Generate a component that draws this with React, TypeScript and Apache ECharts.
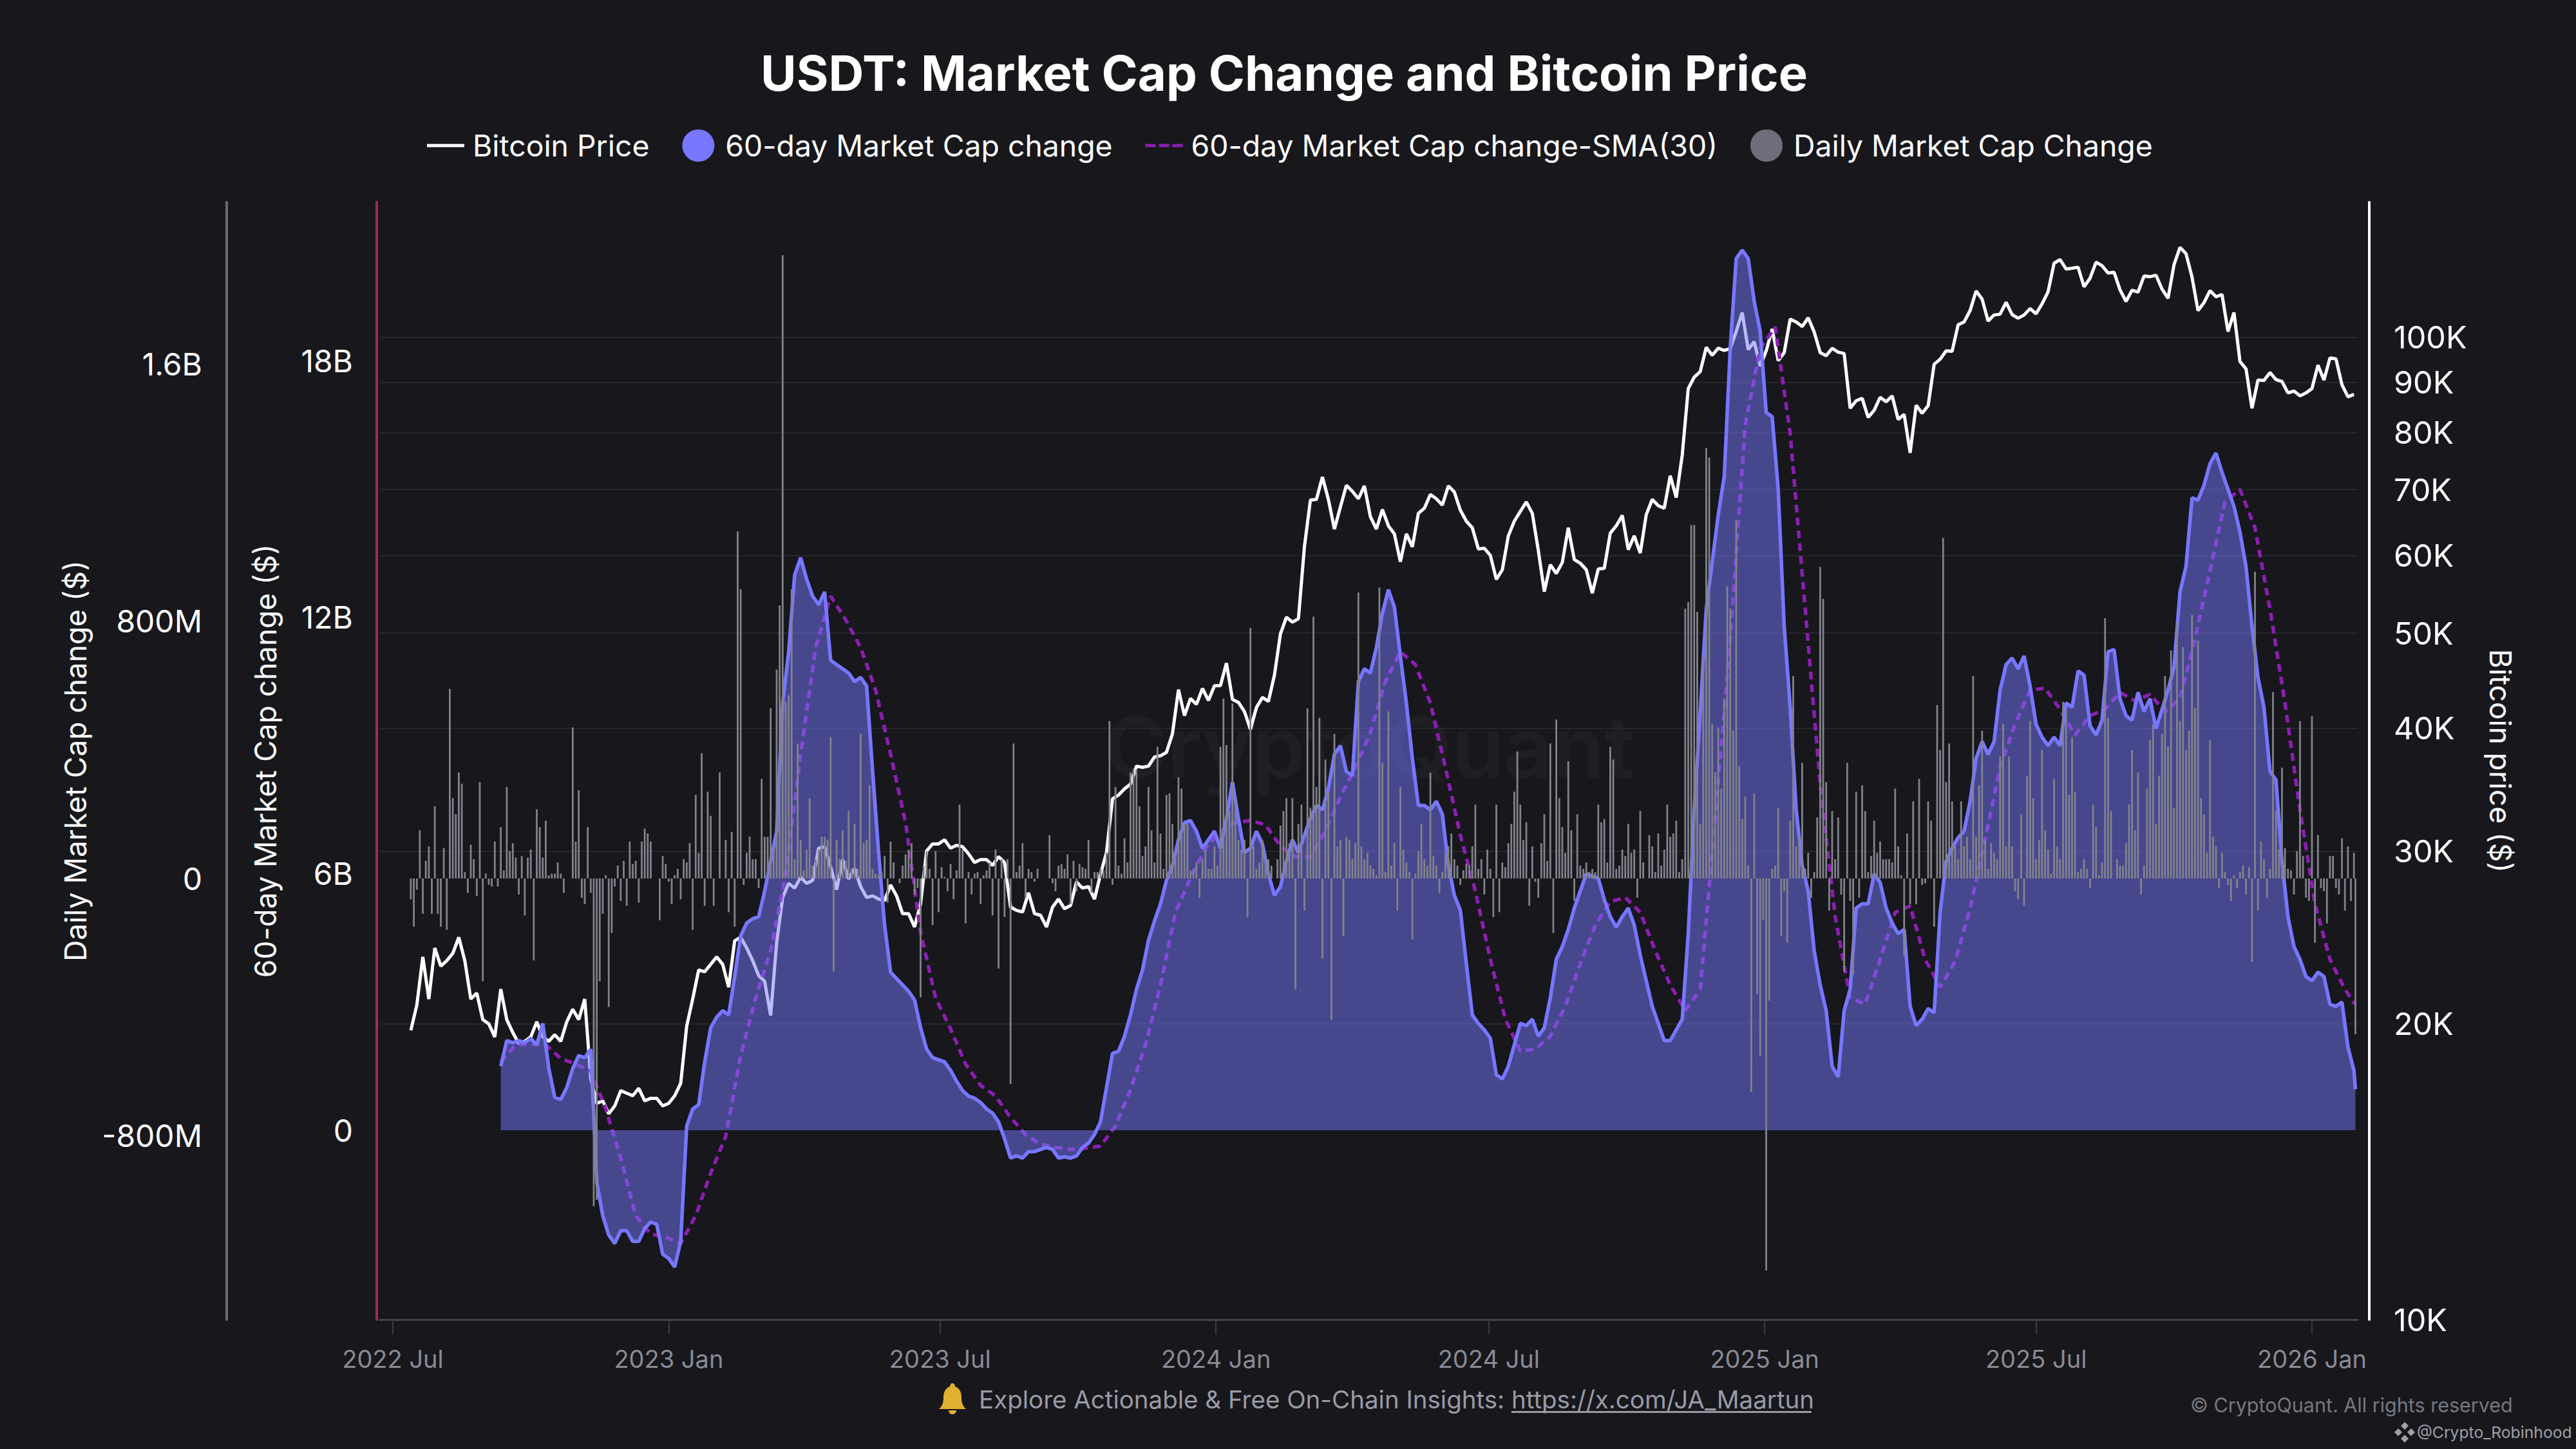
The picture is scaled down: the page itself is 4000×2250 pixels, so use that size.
import React, { useEffect, useRef } from "react";
import * as echarts from "echarts";

const DAY = 86400000;
const END_DATE = Date.UTC(2026, 0, 30);

// Bitcoin price in thousands of dollars, one reading every 4 days from 2022-07-13
const btcPrice = [
  19.7,20.9,23.4,21.2,23.9,22.9,23.2,23.6,24.5,23.2,21.2,21.5,20.2,20.0,19.4,21.7,20.2,19.6,19.1,19.2,19.4,20.1,19.4,19.2,19.5,19.2,20.1,20.7,20.2,21.2,17.6,16.6,16.7,16.2,16.5,17.1,17.0,16.9,17.2,16.7,16.8,16.8,16.5,
  16.6,16.9,17.4,19.9,21.2,22.7,22.6,23.0,23.4,23.0,21.8,24.3,24.5,23.9,23.2,22.4,22.1,20.4,24.2,26.9,27.8,27.5,28.2,27.8,28.0,30.2,30.3,28.9,27.4,29.4,28.1,28.8,27.6,26.9,27.0,26.8,26.7,27.7,27.0,25.9,25.9,25.1,26.5,30.0,30.5,30.5,30.8,30.2,30.4,30.3,29.8,29.2,29.4,29.4,29.0,29.6,29.2,26.3,26.1,26.0,27.2,25.9,25.8,25.1,26.3,26.8,26.2,26.4,27.9,27.5,27.6,26.8,28.4,29.9,33.9,34.2,34.7,35.1,36.6,36.5,36.6,37.4,37.5,37.8,39.5,43.8,41.2,42.9,42.3,43.9,42.7,44.2,
  44.2,46.6,42.8,42.5,41.6,39.9,42.0,43.0,42.6,45.3,49.9,51.9,51.3,51.7,61.2,68.3,68.4,72.1,68.4,63.8,67.2,70.7,69.7,68.5,70.6,65.7,63.8,66.8,64.3,63.1,59.1,63.1,61.2,66.2,67.0,69.2,68.5,67.5,70.6,69.6,66.7,65.0,64.0,60.9,61.0,60.0,56.7,58.0,62.8,65.0,66.5,68.0,66.2,60.7,55.1,58.7,57.5,59.0,64.0,59.4,58.9,58.0,54.9,58.1,58.2,63.2,64.3,65.9,60.8,62.8,60.3,66.0,68.4,67.4,67.0,72.3,68.7,75.9,88.7,91.1,92.3,97.7,95.9,97.5,97.0,97.4,101.4,106.0,97.2,99.0,93.5,
  96.9,102.0,94.7,96.5,104.4,103.7,102.6,104.7,101.3,96.5,95.8,97.5,96.6,96.3,84.7,86.2,86.7,82.9,84.3,86.9,86.0,87.2,82.5,83.5,76.3,85.3,83.7,85.2,93.9,95.0,96.9,96.8,103.0,103.7,106.5,111.5,109.4,103.9,105.4,105.6,108.6,105.5,104.6,105.4,107.0,105.7,108.2,111.3,119.0,120.0,117.4,117.6,117.9,112.6,114.9,119.3,118.3,116.3,116.5,111.8,108.8,111.7,111.2,115.5,115.3,115.7,112.0,109.6,118.6,123.5,121.7,115.2,106.5,108.5,111.6,110.0,110.6,101.4,106.0,94.5,92.9,84.7,90.5,90.4,92.1,90.6,90.2,87.8,88.2,87.2,87.8,
  88.7,93.7,90.5,95.3,95.1,89.5,87.0,87.5,
];

// 60-day market cap change in $B, every 4 days from 2022-09-11
const capChange60 = [
  1.5,2.1,2.05,2.1,2.05,2.15,2.0,2.5,1.46,0.77,0.72,1.0,1.45,1.75,1.7,1.9,-1.2,-2.0,-2.45,-2.65,-2.35,-2.35,-2.6,-2.6,-2.3,-2.15,-2.2,-2.9,-3.0,-3.2,-2.6,0.1,0.5,0.6,1.6,2.4,2.65,2.8,2.7,3.6,4.55,4.85,4.95,5.0,5.6,6.3,7.0,10.0,11.2,13.0,13.4,12.9,12.5,12.3,12.6,11.0,10.9,10.8,10.7,10.5,10.6,10.4,8.4,6.5,4.8,3.7,3.55,3.4,3.25,3.05,2.4,1.9,1.7,1.65,1.6,1.4,1.15,0.93,0.8,0.75,0.65,0.5,0.4,0.2,-0.2,-0.65,-0.6,-0.65,-0.5,-0.5,-0.45,-0.4,-0.45,-0.65,-0.62,-0.65,-0.6,-0.4,-0.3,-0.1,
  0.2,1.0,1.8,1.85,2.2,2.7,3.3,3.75,4.45,4.9,5.3,5.85,6.2,6.8,7.2,7.25,7.0,6.6,6.8,7.0,6.6,7.3,8.15,7.3,6.5,6.6,7.0,6.7,6.0,5.5,5.7,6.3,6.8,6.5,6.9,7.3,7.6,7.5,8.0,8.8,9.0,8.4,8.3,10.5,10.8,10.7,11.3,12.1,12.65,12.25,11.1,10.0,8.7,7.6,7.6,7.5,7.7,7.4,6.2,5.5,5.15,3.9,2.7,2.5,2.35,2.15,1.3,1.2,1.5,2.0,2.5,2.45,2.6,2.2,2.4,3.1,4.0,4.3,4.7,5.2,5.6,6.0,5.95,5.9,5.4,5.0,4.75,5.0,5.2,4.8,4.1,3.5,2.9,2.5,2.1,2.1,2.35,2.6,4.6,7.5,
  9.8,12.2,13.3,14.4,15.3,18.3,20.4,20.6,20.4,19.4,18.7,16.8,16.7,15.0,11.8,9.9,7.5,6.2,5.6,4.2,3.4,2.8,1.5,1.25,2.8,3.3,5.2,5.3,5.3,6.0,5.8,5.2,4.85,4.6,4.7,2.9,2.45,2.6,2.85,2.75,5.1,6.3,6.6,6.85,7.0,7.7,8.7,9.1,8.8,9.1,10.3,10.9,11.05,10.8,11.1,10.4,9.5,9.2,9.0,9.2,9.0,10.0,9.9,10.75,10.65,9.47,9.25,9.6,11.2,11.25,10.1,9.7,9.6,10.25,9.8,10.1,9.4,9.85,10.3,10.85,12.6,13.2,14.8,14.75,15.1,15.6,15.85,15.4,15.0,14.6,14.0,13.2,11.8,10.6,9.9,8.4,8.2,6.3,5.0,4.3,4.0,3.6,3.5,3.7,3.6,2.95,2.9,3.0,1.95,1.4,0.96,
];

// 30-day SMA of the 60-day change in $B, every 10 days from 2022-09-11
const capChangeSma = [
  1.6,2.0,2.02,2.0,1.68,1.55,1.38,0.5,-0.65,-2.0,-2.43,-2.5,-2.65,-2.0,-1.0,-0.15,1.75,3.1,4.2,6.0,8.8,11.3,12.5,11.95,11.3,10.3,8.8,7.2,4.63,3.1,2.37,1.55,1.05,0.8,0.3,-0.1,-0.33,-0.4,-0.45,-0.42,-0.37,0.1,0.95,2.0,3.4,5.1,5.9,6.6,7.0,7.2,7.25,7.15,6.65,6.4,6.4,7.0,7.8,8.5,9.3,10.5,11.2,10.9,10.0,8.5,6.9,5.6,4.0,2.6,1.85,1.9,2.2,2.9,3.9,4.8,5.35,5.45,5.1,4.2,3.4,2.8,3.3,7.3,11.5,16.5,18.3,18.8,16.3,12.2,8.1,5.0,3.1,2.95,4.0,5.1,5.25,4.0,3.35,3.95,5.2,6.8,8.5,9.5,10.3,10.35,9.85,9.25,9.7,9.85,10.25,10.05,10.2,9.8,10.1,11.5,13.1,14.7,15.0,14.1,12.2,10.0,7.5,5.3,4.0,3.3,2.94,
];

// Daily market cap change in $M, every 2 days from 2022-07-13
const dailyChange = [
  -65,-150,-35,150,-110,55,100,-110,225,-110,-150,95,-160,590,250,200,330,295,20,-45,105,60,-55,300,-320,15,-20,-25,115,-25,160,25,285,85,110,65,-50,70,-115,65,90,-255,215,160,65,180,10,15,15,50,15,-45,0,0,470,115,275,-60,-80,160,-45,-1020,-1000,-320,-110,10,-400,-170,-25,40,-70,55,-85,115,45,55,-75,115,155,140,115,0,0,-130,70,45,-10,-80,10,30,-65,60,50,110,-160,260,80,390,-85,270,195,-85,0,330,0,120,-105,145,-150,1080,900,-20,80,130,60,60,-30,
  310,130,130,530,100,650,850,1940,550,570,900,60,420,120,25,90,250,40,60,90,130,130,120,440,-290,120,60,150,55,210,30,170,30,450,110,120,290,30,15,10,20,70,-75,115,50,0,-15,40,75,90,110,-50,-30,-370,40,85,30,-145,85,-105,35,5,-40,45,-65,25,230,90,-140,20,-50,15,20,-80,10,25,50,-115,90,-280,60,-120,60,-640,420,20,40,110,-60,30,20,-10,30,0,0,0,135,-15,-40,40,45,30,75,-80,55,-40,45,35,30,120,-45,20,20,30,25,80,490,-20,285,40,
  15,125,50,330,340,340,225,70,100,285,150,50,410,140,30,260,265,170,90,315,280,170,170,25,30,50,-60,60,90,30,30,100,40,410,560,415,210,545,250,120,90,120,-120,780,100,30,50,120,80,60,40,0,60,165,210,250,110,250,-345,170,230,-100,530,220,815,285,500,-250,370,270,-440,450,100,120,-180,130,120,60,110,890,100,60,80,40,30,10,905,360,20,520,40,110,-100,285,90,50,20,-190,15,85,170,60,40,330,70,40,-45,20,80,100,140,60,40,-20,25,45,40,100,230,30,
  60,-50,90,30,-120,230,-105,50,35,110,170,270,395,230,120,175,-85,100,-10,-60,110,200,55,420,-170,495,250,160,80,365,150,-70,200,40,30,50,20,30,20,230,175,185,50,410,370,30,40,90,70,170,80,90,-60,210,50,0,135,100,20,140,40,90,230,130,140,180,20,60,840,860,1100,1100,830,170,690,1340,1310,480,330,470,280,560,910,840,460,1115,350,185,255,40,-665,265,-360,-553,-130,-1220,-380,30,40,220,-180,-40,-200,180,630,100,130,360,30,80,-60,20,190,970,870,300,-100,210,60,190,-50,-290,360,-70,-300,270,-60,290,210,20,70,180,80,115,60,60,60,50,280,100,10,-240,140,-80,240,-80,310,-20,-15,240,180,-150,540,400,1060,300,420,240,100,60,240,100,130,60,630,130,290,460,120,30,110,80,60,380,480,100,380,100,
  -40,-65,200,-85,320,490,250,60,120,400,150,90,15,310,100,60,550,530,260,440,270,20,30,60,30,-30,230,160,10,50,810,500,210,0,60,40,40,110,230,400,150,330,-50,40,280,430,480,170,320,450,630,410,710,220,800,490,720,400,460,820,530,740,250,200,80,430,130,100,-30,80,20,-20,-70,10,-30,20,40,-50,35,-260,955,-100,115,60,-60,30,580,210,90,345,95,30,25,-50,85,490,70,-60,-70,505,-200,135,-30,-40,-140,70,70,-30,-50,125,-100,100,-70,80,-485,
];

const BTC_TICKS = [10000, 20000, 30000, 40000, 50000, 60000, 70000, 80000, 90000, 100000];
const CAP_TICKS = [0, 6, 12, 18];
const DAILY_TICKS = [-800, 0, 800, 1600];
const X_TICKS = [
  Date.UTC(2022, 6, 1), Date.UTC(2023, 0, 1), Date.UTC(2023, 6, 1), Date.UTC(2024, 0, 1),
  Date.UTC(2024, 6, 1), Date.UTC(2025, 0, 1), Date.UTC(2025, 6, 1), Date.UTC(2026, 0, 1),
];

const dated = (start: number, stepDays: number, vals: number[], scale = 1) =>
  vals.map((v, i) => [Math.min(start + i * stepDays * DAY, END_DATE), v * scale]);

const FONT = "Inter";
const BG = "#17171c";
const BLUE = "#7777ff";
const PURPLE = "#8a1fb0";
const BAR_GRAY = "#82828c";

echarts.graphic.registerShape(
  "bell",
  echarts.graphic.extendPath(
    "M24 0C27 0 28 3 28 5C35 7 38 14 38 22C38 32 41 36 45 40L3 40C7 36 10 32 10 22C10 14 13 7 20 5C20 3 21 0 24 0ZM18 42L30 42C30 46 27 48 24 48C21 48 18 46 18 42Z",
    {}
  )
);

// small diamond for the corner handle mark
const diamond = (cx: number, cy: number, r: number) => ({
  type: "polygon",
  shape: { points: [[cx, cy - r], [cx + r, cy], [cx, cy + r], [cx - r, cy]] },
  style: { fill: "#a0a0a8" },
});

const App: React.FC = () => {
  const chartRef = useRef<HTMLDivElement>(null);

  useEffect(() => {
    const chart = echarts.init(chartRef.current!, null, { renderer: "svg" });

    const option: any = {
      animation: false,
      backgroundColor: BG,
      title: {
        text: "USDT: Market Cap Change and Bitcoin Price",
        left: 1989,
        top: 70,
        textAlign: "center",
        textStyle: { color: "#fff", fontFamily: FONT, fontWeight: 700, fontSize: 76 },
      },
      legend: {
        left: 658,
        top: 196,
        itemWidth: 58,
        itemHeight: 50,
        itemGap: 51,
        textStyle: { color: "#fff", fontFamily: FONT, fontSize: 46.3, padding: [0, 0, 0, 8] },
        data: [
          { name: "Bitcoin Price", icon: "path://M0 0H58V5H0Z" },
          { name: "60-day Market Cap change", icon: "circle" },
          { name: "60-day Market Cap change-SMA(30)", icon: "path://M0 0H16V5H0ZM21 0H37V5H21ZM42 0H58V5H42Z" },
          { name: "Daily Market Cap Change", icon: "circle", itemStyle: { color: "#6e6e7a" } },
        ],
      },
      grid: { left: 590, right: 339, top: 314, bottom: 201 },
      xAxis: {
        type: "value",
        min: Date.UTC(2022, 5, 22, 10),
        max: Date.UTC(2026, 0, 31, 12),
        axisLine: { onZero: false, lineStyle: { color: "#45454d", width: 3 } },
        axisTick: { show: true, length: 23, lineStyle: { color: "#3a3a42", width: 2 }, customValues: X_TICKS },
        splitLine: { show: false },
        axisLabel: {
          customValues: X_TICKS,
          hideOverlap: false,
          color: "#8a8a94",
          fontFamily: FONT,
          fontSize: 38,
          margin: 42,
          formatter: (v: number) => {
            const d = new Date(v);
            return `${d.getUTCFullYear()} ${d.getUTCMonth() === 0 ? "Jan" : "Jul"}`;
          },
        },
      },
      yAxis: [
        {
          type: "log",
          position: "right",
          offset: 18,
          min: 10000,
          max: 137300,
          name: "Bitcoin price ($)",
          nameLocation: "middle",
          nameRotate: -90,
          nameGap: 181,
          nameTextStyle: { color: "#fff", fontFamily: FONT, fontSize: 46 },
          axisLine: { show: true, lineStyle: { color: "#fff", width: 4 } },
          axisTick: { show: false, customValues: BTC_TICKS },
          minorTick: { show: false },
          splitLine: { show: true, lineStyle: { color: "#26262c", width: 2 } },
          axisLabel: {
            customValues: BTC_TICKS,
            color: "#fff",
            fontFamily: FONT,
            fontSize: 48.5,
            margin: 38,
            padding: [0, 0, 5, 0],
            formatter: (v: number) => `${Math.round(v / 1000)}K`,
          },
        },
        {
          type: "value",
          position: "left",
          offset: 5,
          min: -4.43,
          max: 21.72,
          name: "60-day Market Cap change ($)",
          nameLocation: "middle",
          nameRotate: 90,
          nameGap: 150,
          nameTextStyle: { color: "#fff", fontFamily: FONT, fontSize: 46 },
          axisLine: { show: true, lineStyle: { color: "#a02a66", width: 4 } },
          axisTick: { show: false, customValues: CAP_TICKS },
          splitLine: { show: false },
          axisLabel: {
            customValues: CAP_TICKS,
            color: "#fff",
            fontFamily: FONT,
            fontSize: 48,
            margin: 37,
            padding: [0, 0, 3, 0],
            formatter: (v: number) => (v === 0 ? "0" : `${v}B`),
          },
        },
        {
          type: "value",
          position: "left",
          offset: 238,
          min: -1373,
          max: 2105,
          name: "Daily Market Cap change ($)",
          nameLocation: "middle",
          nameRotate: 90,
          nameGap: 212,
          nameTextStyle: { color: "#fff", fontFamily: FONT, fontSize: 46 },
          axisLine: { show: true, lineStyle: { color: "#6c6c72", width: 4 } },
          axisTick: { show: false, customValues: DAILY_TICKS },
          splitLine: { show: false },
          axisLabel: {
            customValues: DAILY_TICKS,
            color: "#fff",
            fontFamily: FONT,
            fontSize: 48,
            margin: 38,
            padding: [0, 0, 10, 0],
            formatter: (v: number) => (v === 0 ? "0" : Math.abs(v) >= 1000 ? `${v / 1000}B` : `${v}M`),
          },
        },
      ],
      series: [
        {
          name: "Bitcoin Price",
          type: "line",
          yAxisIndex: 0,
          z: 2,
          symbol: "none",
          itemStyle: { color: "#fff" },
          lineStyle: { color: "#fff", width: 5 },
          data: dated(Date.UTC(2022, 6, 13), 4, btcPrice, 1000),
        },
        {
          name: "60-day Market Cap change-SMA(30)",
          type: "line",
          yAxisIndex: 1,
          z: 3,
          symbol: "none",
          itemStyle: { color: PURPLE },
          lineStyle: { color: PURPLE, width: 5.5, type: [12, 8] },
          data: dated(Date.UTC(2022, 8, 11), 10, capChangeSma),
        },
        {
          name: "60-day Market Cap change",
          type: "line",
          yAxisIndex: 1,
          z: 4,
          symbol: "none",
          itemStyle: { color: BLUE },
          lineStyle: { color: BLUE, width: 5.5 },
          areaStyle: { color: BLUE, opacity: 0.5, origin: 0 },
          data: dated(Date.UTC(2022, 8, 11), 4, capChange60),
        },
        {
          name: "Daily Market Cap Change",
          type: "bar",
          yAxisIndex: 2,
          z: 5,
          barWidth: 2.8,
          itemStyle: { color: BAR_GRAY },
          data: dated(Date.UTC(2022, 6, 13), 2, dailyChange),
        },
      ],
      graphic: [
        { type: "text", z: 0, x: 1715, y: 1160, style: { text: "CryptoQuant", fill: "rgba(255,255,255,0.03)", font: `600 132px ${FONT}`, verticalAlign: "middle" } },
        { type: "bell", x: 1455, y: 2148, style: { fill: "#e0b030" } },
        { type: "text", x: 1520, y: 2173, style: { text: "Explore Actionable & Free On-Chain Insights:", fill: "#9a9aa5", font: `38.5px ${FONT}`, verticalAlign: "middle" } },
        { type: "text", x: 2347, y: 2173, style: { text: "https://x.com/JA_Maartun", fill: "#9a9aa5", font: `38.5px ${FONT}`, verticalAlign: "middle" } },
        { type: "rect", shape: { x: 2347, y: 2191, width: 466, height: 3 }, style: { fill: "#9a9aa5" } },
        { type: "text", x: 3401, y: 2181, style: { text: "© CryptoQuant. All rights reserved", fill: "#77777f", font: `30.5px ${FONT}`, verticalAlign: "middle" } },
        diamond(3734, 2214, 6),
        diamond(3734, 2234, 6),
        diamond(3724, 2224, 6),
        diamond(3744, 2224, 6),
        { type: "text", x: 3753, y: 2224, style: { text: "@Crypto_Robinhood", fill: "#a0a0a8", font: `24.7px ${FONT}`, verticalAlign: "middle" } },
      ],
    };

    chart.setOption(option);

    return () => {
      chart.dispose();
    };
  }, []);

  return <div ref={chartRef} style={{ position: "absolute", left: 0, top: 0, width: 4000, height: 2250 }} />;
};

export default App;
